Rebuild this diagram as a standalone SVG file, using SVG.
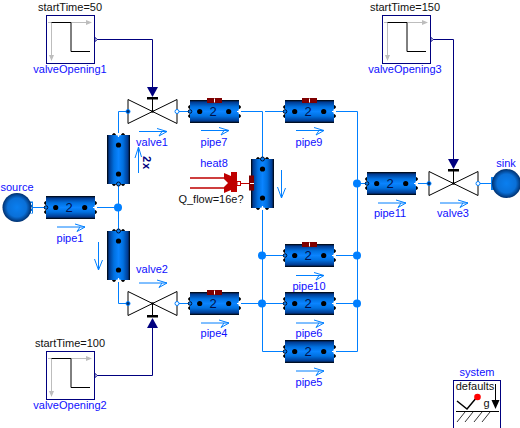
<svg xmlns="http://www.w3.org/2000/svg" xmlns:xlink="http://www.w3.org/1999/xlink" width="520" height="428" viewBox="0 0 520 428">
<style>
text{font-family:"Liberation Sans",Arial,sans-serif;font-size:11px;text-anchor:middle}
.n{fill:#0f0fff}
.k{fill:#111}
.t{fill:#00104a;font-size:13px}
.w{fill:none;stroke:#007fff;stroke-width:1}
.c{fill:none;stroke:#00007f;stroke-width:1}
.fl{fill:none;stroke:#007fff;stroke-width:1}
</style>
<defs>
<linearGradient id="gh" x1="0" y1="0" x2="0" y2="1"><stop offset="0" stop-color="#000"/><stop offset=".09" stop-color="#003a90"/><stop offset=".3" stop-color="#0070e0"/><stop offset=".5" stop-color="#0a84ff"/><stop offset=".7" stop-color="#0070e0"/><stop offset=".91" stop-color="#003a90"/><stop offset="1" stop-color="#000"/></linearGradient>
<linearGradient id="gv" x1="0" y1="0" x2="1" y2="0"><stop offset="0" stop-color="#000"/><stop offset=".09" stop-color="#003a90"/><stop offset=".3" stop-color="#0070e0"/><stop offset=".5" stop-color="#0a84ff"/><stop offset=".7" stop-color="#0070e0"/><stop offset=".91" stop-color="#003a90"/><stop offset="1" stop-color="#000"/></linearGradient>
<radialGradient id="gs" cx=".5" cy=".5" r=".5"><stop offset="0" stop-color="#0a7ff0"/><stop offset=".65" stop-color="#0a70d8"/><stop offset="1" stop-color="#00306f"/></radialGradient>
<g id="pipeH">
<rect x="0" y="-11.5" width="49" height="23" fill="url(#gh)"/>
<path d="M0-6a1.500 1.500 0 0 0 0 3M0 3a1.500 1.500 0 0 0 0 3M49-6a1.500 1.500 0 0 1 0 3M49 3a1.500 1.500 0 0 1 0 3" fill="#000" stroke="#000" stroke-width=".8"/>
<circle cx="9.7" cy="0" r="2.600" fill="#000"/><circle cx="38.700" cy="0" r="2.600" fill="#000"/>
<circle cx="0" cy="0" r="1.800" fill="#0a7ff0" stroke="#00102e"/>
<path d="M47 0h4M49-2v4" stroke="#fff" stroke-width="1.200"/>
</g>
<g id="pipeV">
<rect x="-11.5" y="0" width="23" height="49" fill="url(#gv)"/>
<path d="M-6 0a1.500 1.500 0 0 1 3 0M3 0a1.500 1.500 0 0 1 3 0M-6 49a1.500 1.500 0 0 0 3 0M3 49a1.500 1.500 0 0 0 3 0" fill="#000" stroke="#000" stroke-width=".8"/>
<circle cx="0" cy="10" r="2.600" fill="#000"/><circle cx="0" cy="39" r="2.600" fill="#000"/>
</g>
<path id="pOpen" d="M-2 0a2 2 0 1 0 4 0a2 2 0 1 0-4 0" fill="#0a7ff0" stroke="#00102e"/>
<path id="pCross" d="M-2 0h4M0-2v4" stroke="#fff" stroke-width="1.200"/>
<g id="heatPort"><rect x="-7.500" y="-2.500" width="15" height="5" fill="#7f0000"/><rect x="-.5" y="-2" width="1" height="4" fill="#fff"/></g>
<g id="valveBody">
<path d="M-24.500-12L24.500 12V-12L-24.500 12Z" fill="#fff" stroke="#000" stroke-width="1"/>
<circle r="1.300" fill="#000"/>
<circle cx="-24.500" r="2" fill="#00306f" stroke="#007fff"/>
<circle cx="24.500" r="2" fill="#fff" stroke="#007fff"/>
</g>
<g id="step">
<rect x=".5" y=".5" width="48" height="48" fill="#fff" stroke="#00007f" stroke-width="1"/>
<path d="M2 7.500H42M5.500 7V42" stroke="#bdbdbd" stroke-width="1" fill="none"/>
<path d="M40 5L46 7.500L40 10ZM3 40L5.500 46L8 40Z" fill="#bdbdbd"/>
<path d="M5.500 7.500H25V36.500H44" fill="none" stroke="#000" stroke-width="1"/>
<path d="M49 22.500L51.500 24.500L49 26.500Z" fill="#fff" stroke="#00007f" stroke-width=".8"/>
</g>
<g id="flow"><path d="M0 0H28M18-3L28 0L20 4.500L23 0" class="fl"/></g>
<g id="flowD"><path d="M0 0V28M-4 17L0 28L4 18" class="fl"/></g>
<g id="flowU"><path d="M0 0V-26M-3.500-15L0-26L3-16" class="fl"/></g>
</defs>

<g id="connectors">
<path class="w" d="M33 207.500H46M95 207.500H118.500M118.500 184V231M118.500 135V111.500H128M118.500 280V303.500H128"/>
<path class="w" d="M177 111.500H190M239 111.500H262.500V159M265 111.500H285M334 111.500H357.500V351.500H334"/>
<path class="w" d="M177 303.500H190M239 303.500H285M262.500 208V351.500H285M262.500 255.500H285M334 255.500H357.500M334 303.500H357.500M357.500 183.500H367M416 183.500H429M478 183.500H491"/>
<path class="c" d="M95 39.500H152.500V87M95 375.500H152.500V328M430 39.500H453.500V159"/>
<g id="junctions" fill="#007fff">
<circle cx="118" cy="207.500" r="4"/><circle cx="262" cy="255.500" r="4"/><circle cx="262" cy="303.500" r="4"/><circle cx="357" cy="183.500" r="4"/><circle cx="357" cy="255.500" r="4"/><circle cx="357" cy="303.500" r="4"/>
</g>
</g>

<g id="valveOpening1"><use href="#step" x="46" y="15"/><text class="k" x="70" y="11">startTime=50</text><text class="n" x="70" y="73">valveOpening1</text></g>
<g id="valveOpening2"><use href="#step" x="46" y="351"/><text class="k" x="70" y="347">startTime=100</text><text class="n" x="70" y="409">valveOpening2</text></g>
<g id="valveOpening3"><use href="#step" x="382" y="15"/><text class="k" x="405" y="11">startTime=150</text><text class="n" x="405" y="73">valveOpening3</text></g>

<g id="source"><rect x="30" y="201.500" width="3" height="12" fill="#0a7ff0"/><path d="M31.500 203v10" stroke="#fff" stroke-width="1" stroke-dasharray="2 2"/><circle cx="17" cy="207.500" r="14.500" fill="url(#gs)"/><text class="n" x="17" y="191">source</text></g>
<g id="sink"><rect x="491" y="177" width="3" height="13" fill="#0a7ff0"/><circle cx="506.500" cy="183.500" r="14.500" fill="url(#gs)"/><text class="n" x="506" y="167">sink</text></g>

<g id="pipe1"><use href="#pipeH" x="46" y="207.500"/><text class="t" x="69" y="212">2</text><use href="#flow" x="57" y="227"/><text class="n" x="70" y="242">pipe1</text></g>
<g id="pipe2"><use href="#pipeV" x="118.500" y="135"/><use href="#pCross" x="118.500" y="135"/><use href="#pOpen" x="118.500" y="184"/><use href="#flowU" x="138.500" y="173"/><text x="0" y="0" transform="translate(142.500 156) rotate(90)" style="text-anchor:start;fill:#00007f;font-weight:bold;letter-spacing:1px">2x</text></g>
<g id="pipe3"><use href="#pipeV" x="118.500" y="231"/><use href="#pOpen" x="118.500" y="231"/><use href="#pCross" x="118.500" y="280"/><use href="#flowD" x="98.500" y="242"/></g>
<g id="valve1"><use href="#valveBody" x="152.500" y="111.500"/><path d="M152.500 111V99" stroke="#000"/><rect x="147" y="97" width="11" height="2.500" fill="#000"/><path d="M147 87H158L152.500 97Z" fill="#00007f"/><use href="#flow" x="139" y="131.500"/><text class="n" x="152" y="146">valve1</text></g>
<g id="valve2"><use href="#valveBody" x="152.500" y="303.500"/><path d="M152.500 304V316" stroke="#000"/><rect x="147" y="315" width="11" height="2.500" fill="#000"/><path d="M147 328H158L152.500 318Z" fill="#00007f"/><use href="#flow" x="139" y="283"/><text class="n" x="152" y="273">valve2</text></g>
<g id="valve3"><use href="#valveBody" x="453.500" y="183.500"/><path d="M453.500 183V171" stroke="#000"/><rect x="448" y="169" width="11" height="2.500" fill="#000"/><path d="M448 159H459L453.500 169Z" fill="#00007f"/><use href="#flow" x="440" y="203"/><text class="n" x="453" y="217">valve3</text></g>

<g id="pipe7"><use href="#pipeH" x="190" y="111.500"/><use href="#heatPort" x="214.500" y="100.500"/><text class="t" x="213" y="116">2</text><use href="#flow" x="201" y="130.500"/><text class="n" x="214" y="146">pipe7</text></g>
<g id="pipe9"><use href="#pipeH" x="285" y="111.500"/><use href="#heatPort" x="309.500" y="100.500"/><text class="t" x="308" y="116">2</text><use href="#flow" x="296" y="130.500"/><text class="n" x="309" y="146">pipe9</text></g>
<g id="pipe8"><use href="#pipeV" x="262.500" y="159"/><use href="#pOpen" x="262.500" y="159"/><use href="#pCross" x="262.500" y="208"/><rect x="249" y="175.500" width="5" height="15" fill="#7f0000"/><rect x="250" y="183" width="4" height="1" fill="#fff"/><use href="#flowD" x="281.500" y="170"/></g>
<g id="heat8"><path d="M190 178H225M190 188H225" stroke="#bf0000" stroke-width="1.500" fill="none"/><path d="M224 173L231 176V190L224 193V187L228 183L224 179Z" fill="#bf0000"/><rect x="231" y="172" width="6" height="20" fill="#bf0000"/><rect x="237" y="181.500" width="3.500" height="4" fill="#fff" stroke="#bf0000"/><path d="M240.500 183.500H249" stroke="#bf0000"/><text class="n" x="214" y="167">heat8</text><text class="k" x="211" y="203">Q_flow=16e?</text></g>
<g id="pipe10"><use href="#pipeH" x="285" y="255.500"/><use href="#heatPort" x="309.500" y="244.500"/><text class="t" x="308" y="260">2</text><use href="#flow" x="296" y="275.500"/><text class="n" x="309" y="290">pipe10</text></g>
<g id="pipe4"><use href="#pipeH" x="190" y="303.500"/><use href="#heatPort" x="214.500" y="292.500"/><text class="t" x="213" y="308">2</text><use href="#flow" x="201" y="323"/><text class="n" x="214" y="337">pipe4</text></g>
<g id="pipe6"><use href="#pipeH" x="285" y="303.500"/><text class="t" x="308" y="308">2</text><use href="#flow" x="296" y="323"/><text class="n" x="309" y="337">pipe6</text></g>
<g id="pipe5"><use href="#pipeH" x="285" y="351.500"/><text class="t" x="308" y="356">2</text><use href="#flow" x="296" y="371"/><text class="n" x="309" y="386">pipe5</text></g>
<g id="pipe11"><use href="#pipeH" x="367" y="183.500"/><text class="t" x="390" y="188">2</text><use href="#flow" x="378" y="203"/><text class="n" x="390" y="217">pipe11</text></g>

<g id="system">
<text class="n" x="477" y="376">system</text>
<rect x="453.500" y="380.500" width="47" height="48" fill="#fff" stroke="#00007f" stroke-width="1"/>
<text class="k" x="475" y="390">defaults</text>
<path d="M495.500 384V402" stroke="#000"/><path d="M491.500 400H499.500L495.500 409Z" fill="#000"/>
<path d="M457 401L467 409L477 397" fill="none" stroke="#000" stroke-width="1.500"/>
<circle cx="477.500" cy="397" r="3.300" fill="#ff0000"/>
<text class="k" x="486.500" y="407">g</text>
<path d="M456 411.500H499" stroke="#000"/>
<path d="M465 412L457 422M473 412L465 422M482 412L474 422M490 412L482 422" stroke="#000" stroke-width=".8"/>
</g>
</svg>
